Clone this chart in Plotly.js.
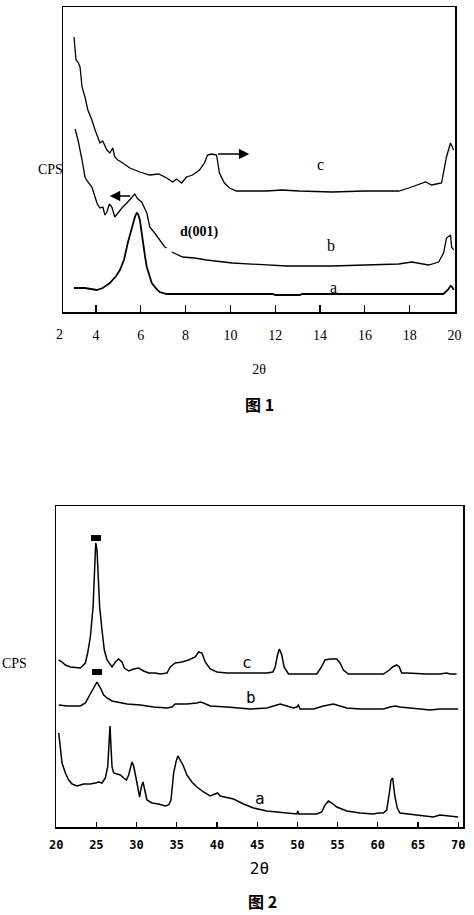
<!DOCTYPE html>
<html><head><meta charset="utf-8">
<script src="https://cdn.plot.ly/plotly-3.0.1.min.js"></script>
<style>html,body{margin:0;padding:0;background:#fff;}#chart{width:474px;height:915px;}</style>
</head><body><div id="chart"></div>
<script>
// ---------- Figure 1 (2θ 2–20) ----------
const f1TickVals = [2,4,6,8,10,12,14,16,18,20];
const f1TickText = ["2","4","6","8","10","12","14","16","18","20"];

const f1A_x = [3.02,3.5,4.04,4.3,4.62,4.9,5.07,5.25,5.42,5.55,5.64,5.75,5.82,5.88,5.96,6.09,6.2,6.27,6.49,6.7,6.84,7.16,8,10,11.9,12.0,13.1,13.2,15,17,19.5,19.7,19.82,19.9,19.96];
const f1A_y = [24,24,22,24,29,36,42,52,69,80,85,96,99,98,92,69,54,45,29,23,20,18,18,18,18,17,17,18,18,18,18,22,26,25,22];

const f1B_x = [3.07,3.2,3.38,3.51,3.64,3.82,3.96,4.06,4.18,4.31,4.4,4.49,4.6,4.71,4.84,4.98,5.16,5.38,5.6,5.73,5.87,6.04,6.27,6.4,6.62,6.84,7.07,7.16,null,7.38,7.87,8.4,8.93,10.09,11.6,12.5,14.53,16.0,17.51,18.09,18.84,19.29,19.51,19.64,19.82,19.87,19.96];
const f1B_y = [183,172,152,135,130,125,115,108,104,105,97,100,108,105,95,99,104,109,115,118,113,110,99,85,79,72,65,64,null,60,55,54,52,49,47,46,46,47,48,50,47,50,59,74,77,65,62];

const f1C_x = [3.02,3.11,3.2,3.29,3.38,3.51,3.64,3.82,3.96,4.18,4.3,4.49,4.62,4.75,4.84,4.98,5.2,5.51,5.96,6.4,6.8,7.16,7.42,7.6,7.82,8.04,8.31,8.62,8.84,8.98,9.16,9.38,9.51,9.73,9.96,10.27,11.6,12.3,13.07,14.53,16.0,17.51,17.96,18.71,18.98,19.42,19.64,19.82,19.96];
const f1C_y = [275,252,250,245,225,215,202,192,182,169,171,162,159,164,155,152,149,144,140,137,138,134,130,133,129,135,137,142,149,157,158,157,139,129,124,121,121,122,121,120,121,121,124,130,127,129,155,169,162];

// ---------- Figure 2 (2θ 20–70) ----------
const f2TickVals = [20,25,30,35,40,45,50,55,60,65,70];
const f2TickText = ["20","25","30","35","40","45","50","55","60","65","70"];

const f2C_x = [20.32,20.73,21.15,21.77,23.01,23.63,23.92,24.25,24.59,24.79,24.92,25.08,25.17,25.41,25.70,25.99,26.33,26.95,27.36,27.77,28.19,28.48,29.02,29.64,30.26,30.88,31.50,32.33,32.95,33.78,34.19,34.81,35.64,36.47,37.30,37.71,38.13,38.54,39.16,39.99,41.23,42.89,44.54,46.20,46.95,47.24,47.53,47.77,48.06,48.35,48.89,50.34,52.41,52.91,53.45,54.07,54.90,55.31,55.72,56.35,57.80,60.69,61.44,61.85,62.35,62.68,62.97,63.59,66.08,67.73,68.56,68.98,69.80];
const f2C_y = [167,165,162,160,159,164,174,190,220,254,284,277,260,220,197,177,167,160,165,168,165,159,156,158,159,156,154,154,153,154,160,164,165,167,170,175,174,165,158,155,154,154,154,154,155,160,172,178,172,160,153,153,153,159,167,168,168,164,157,153,153,153,157,160,162,160,154,154,153,153,154,153,153];

const f2B_x = [20.32,21.36,23.01,23.63,24.17,24.67,25.08,25.50,25.91,26.33,26.95,27.57,28.19,28.81,30.47,32.12,33.78,34.40,34.81,36.26,37.51,37.92,38.33,39.16,41.23,44.13,46.20,47.03,47.86,48.68,49.51,49.93,50.13,50.34,52.00,53.24,54.48,55.31,56.14,57.80,60.69,61.52,62.14,62.76,64.83,66.49,67.73,70.0];
const f2B_y = [122,121,121,124,132,140,145,139,132,129,126,125,124,123,122,120,119,120,123,123,124,125,124,121,120,118,119,121,123,121,119,120,122,118,118,121,123,121,119,118,118,120,121,120,118,117,118,118];

const f2A_x = [20.32,20.53,20.73,21.15,21.56,21.98,22.60,23.43,24.25,24.88,25.29,25.70,26.12,26.41,26.57,26.70,26.82,26.95,27.15,27.57,27.98,28.40,28.73,29.02,29.22,29.43,29.64,29.84,30.05,30.38,30.59,30.80,31.00,31.29,31.92,32.74,33.57,33.99,34.28,34.61,34.90,35.14,35.43,35.77,36.26,36.88,37.51,38.33,39.16,40.07,40.40,42.06,43.30,44.54,46.20,48.27,49.93,50.05,50.17,52.41,53.03,53.45,53.86,54.28,54.90,56.14,57.80,59.45,60.07,60.69,61.11,61.44,61.65,61.85,61.94,62.14,62.43,62.76,64.83,66.08,66.91,67.73,68.56,70.0];
const f2A_y = [94,80,64,54,47,43,41,43,43,44,45,44,49,60,80,101,80,60,54,53,52,49,47,52,60,65,61,54,44,30,40,45,37,27,24,23,21,22,27,54,65,71,67,62,52,45,40,35,31,34,31,28,23,19,16,14,13,16,13,13,15,22,26,24,20,16,14,13,14,14,17,34,47,49,43,30,19,14,12,11,10,12,11,10];

// filled rectangle markers above the anatase peak (figure 2, curves c and b)
const f2Mark_x0 = [24.34,24.46];
const f2Mark_x1 = [25.58,25.70];
const f2Mark_y0 = [286,152];
const f2Mark_y1 = [292,158];

// curve labels
const f1Labels = [{t:"c",x:14.04,y:148},{t:"b",x:14.49,y:67},{t:"a",x:14.58,y:25}];
const f1PeakLabel = {t:"d(001)",x:8.62,y:80};
const f1Arrows = [{x0:9.38,x1:10.84,y:158},{x0:5.6,x1:4.62,y:116}];
const f2Labels = [{t:"c",x:43.72,y:165},{t:"b",x:44.21,y:130},{t:"a",x:45.29,y:29}];

// ---------- layout geometry ----------
const W = 474, H = 915;
const f1Range = [2.53, 20.02];
const f1Dom = [63/W, 455/W];
const f2Range = [19.98, 70.6];
const f2Dom = [56/W, 463/W];

const serif = "Liberation Serif, Times New Roman, serif";
const block = "DejaVu Sans Mono, monospace";

const line1 = {color:"#000", width:1.3};
const line2 = {color:"#000", width:1.5};

const traces = [
  {x:f1A_x, y:f1A_y, type:"scatter", mode:"lines", line:{color:"#000",width:1.8}, xaxis:"x", yaxis:"y", connectgaps:false},
  {x:f1B_x, y:f1B_y, type:"scatter", mode:"lines", line:line1, xaxis:"x", yaxis:"y", connectgaps:false},
  {x:f1C_x, y:f1C_y, type:"scatter", mode:"lines", line:line1, xaxis:"x", yaxis:"y", connectgaps:false},
  {x:f2C_x, y:f2C_y, type:"scatter", mode:"lines", line:line2, xaxis:"x2", yaxis:"y2"},
  {x:f2B_x, y:f2B_y, type:"scatter", mode:"lines", line:line2, xaxis:"x2", yaxis:"y2"},
  {x:f2A_x, y:f2A_y, type:"scatter", mode:"lines", line:line2, xaxis:"x2", yaxis:"y2"}
];

const annotations = [];
f1Labels.forEach(l => annotations.push({xref:"x",yref:"y",x:l.x,y:l.y,text:l.t,showarrow:false,font:{family:serif,size:16,color:"#000"}}));
annotations.push({xref:"x",yref:"y",x:f1PeakLabel.x,y:f1PeakLabel.y,text:"<b>"+f1PeakLabel.t+"</b>",showarrow:false,font:{family:serif,size:14,color:"#000"}});
f1Arrows.forEach(a => annotations.push({xref:"x",yref:"y",axref:"x",ayref:"y",x:a.x1,y:a.y,ax:a.x0,ay:a.y,text:"",showarrow:true,arrowhead:2,arrowsize:1.3,arrowwidth:1.6,arrowcolor:"#000"}));
f2Labels.forEach(l => annotations.push({xref:"x2",yref:"y2",x:l.x,y:l.y,text:l.t,showarrow:false,font:{family:block,size:16,color:"#000"}}));
// tick label "2" lies left of the plotted range
const f1x2 = f1Dom[0] + (f1TickVals[0]-f1Range[0])/(f1Range[1]-f1Range[0])*(f1Dom[1]-f1Dom[0]);
annotations.push({xref:"paper",yref:"paper",x:f1x2+3/W,y:1-335/H,text:f1TickText[0],showarrow:false,font:{family:serif,size:14,color:"#000"}});
annotations.push({xref:"paper",yref:"paper",x:36/W,y:1-160/H,text:"CPS",showarrow:false,font:{family:serif,size:14,color:"#000"}});
annotations.push({xref:"paper",yref:"paper",x:0,xanchor:"left",y:1-673/H,text:"CPS",showarrow:false,font:{family:serif,size:14,color:"#000"}});
annotations.push({xref:"paper",yref:"paper",x:259/W,y:1-404/H,text:"<b>图 1</b>",showarrow:false,font:{family:"Noto Sans CJK SC",size:16,color:"#000"}});
annotations.push({xref:"paper",yref:"paper",x:262/W,y:0,yanchor:"bottom",text:"<b>图 2</b>",showarrow:false,font:{family:"Noto Sans CJK SC",size:16,color:"#000"}});

const shapes = f2Mark_x0.map((x0,i)=>({type:"rect",xref:"x2",yref:"y2",x0:x0,x1:f2Mark_x1[i],y0:f2Mark_y0[i],y1:f2Mark_y1[i],fillcolor:"#000",line:{width:0}}));

const axBase = {showline:true, mirror:true, linecolor:"#000", showgrid:false, zeroline:false};

const layout = {
  width:W, height:H, margin:{l:0,r:0,t:0,b:0},
  paper_bgcolor:"#fff", plot_bgcolor:"#fff", showlegend:false,
  xaxis: Object.assign({}, axBase, {domain:f1Dom, range:f1Range, anchor:"y", linewidth:1.5,
    tickmode:"array", tickvals:f1TickVals, ticktext:f1TickText, ticks:"inside", ticklen:7, tickwidth:1.2, tickcolor:"#000",
    ticklabelstandoff:10, tickfont:{family:serif,size:14,color:"#000"},
    title:{text:"2θ", font:{family:serif,size:14,color:"#000"}, standoff:22}}),
  yaxis: Object.assign({}, axBase, {domain:[1-312/H, 1-7/H], range:[0,305], anchor:"x", linewidth:1.5, showticklabels:false, ticks:""}),
  xaxis2: Object.assign({}, axBase, {domain:f2Dom, range:f2Range, anchor:"y2", linewidth:1.5,
    tickmode:"array", tickvals:f2TickVals, ticktext:f2TickText, ticks:"inside", ticklen:5, tickwidth:1.2, tickcolor:"#000",
    ticklabelstandoff:6, tickfont:{family:block,size:12,color:"#000",weight:"bold"},
    title:{text:"2θ", font:{family:block,size:16,color:"#000"}, standoff:12}}),
  yaxis2: Object.assign({}, axBase, {domain:[1-827/H, 1-506/H], range:[0,321], anchor:"x2", linewidth:1.5, showticklabels:false, ticks:""}),
  annotations: annotations,
  shapes: shapes
};

Plotly.newPlot("chart", traces, layout, {displayModeBar:false, staticPlot:true});
</script>
</body></html>
